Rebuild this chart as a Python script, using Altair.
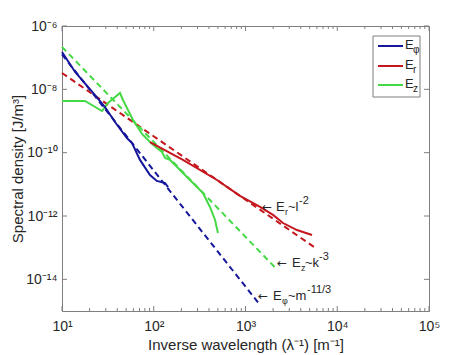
import altair as alt
import pandas as pd

# ---------------- data ----------------
# E_phi (blue, solid)
phi_k = [10, 13.9, 22.9, 29.4, 37.8, 51.0, 58.0, 70.8, 91.0, 108, 133, 143]
phi_E = [1.51e-7, 3.53e-8, 6.6e-9, 2.77e-9, 9.3e-10, 2.91e-10, 2.02e-10, 5.9e-11,
         1.97e-11, 1.28e-11, 1.1e-11, 8.2e-12]
# E_r (red, solid)
r_k = [91.0, 208, 489, 871, 1439, 1995, 2564, 3640, 5309]
r_E = [2.17e-10, 5.9e-11, 1.37e-11, 4.3e-12, 1.93e-12, 1.08e-12, 6.0e-13, 3.6e-13, 2.5e-13]
# E_z (green, solid)
z_k = [10, 17.8, 27.3, 31.7, 42.9, 46.2, 59.4, 74.5, 91.0, 108, 123, 133, 150, 171,
       230, 296, 344, 410, 466, 501]
z_E = [4.3e-9, 4.3e-9, 2.07e-9, 3.7e-9, 7.66e-9, 4.6e-9, 1.08e-9, 3.9e-10, 2.17e-10,
       1.41e-10, 1.05e-10, 6.8e-11, 5.9e-11, 4.1e-11, 1.7e-11, 8.2e-12, 5.3e-12,
       1.93e-12, 7.5e-13, 2.9e-13]
# power-law fits (dashed)
phi_fit_k = [10, 1440]
phi_fit_E = [1.26e-7, 1.55e-15]
r_fit_k = [10, 6000]
r_fit_E = [3.28e-8, 9.1e-14]
z_fit_k = [10, 2200]
z_fit_E = [2.19e-7, 2.06e-14]

# annotation anchors (data coordinates of the arrow tails)
ann_r = (1514, 1.93e-12)
ann_z = (2203, 3.29e-14)
ann_phi = (1368, 2.99e-15)

x_ticks = [10, 100, 1000, 10000, 100000]
y_ticks = [1e-6, 1e-8, 1e-10, 1e-12, 1e-14]
x_minor = [d * m for d in [10, 100, 1000, 10000] for m in range(2, 10)]

x_title = "Inverse wavelength (λ⁻¹) [m⁻¹]"
y_title = "Spectral density [J/m³]"

# ---------------- styling ----------------
BLUE = "#15169a"
RED = "#c4161c"
GREEN = "#46d946"
AXC = "#7f7f7f"
TXT = "#262626"
FONT = "Liberation Sans"
W, H = 367, 285

SUP = str.maketrans("-0123456789", "⁻⁰¹²³⁴⁵⁶⁷⁸⁹")


def label_expr(vals):
    import math
    e = "round(log(datum.value)/LN10)"
    parts = []
    for v in vals:
        p = int(round(math.log10(v)))
        parts.append(f"{e} == {p} ? '10{str(p).translate(SUP)}'")
    return " : ".join(parts) + " : ''"


xscale = alt.Scale(type="log", domain=[10, 1e5], nice=False)
yscale = alt.Scale(type="log", domain=[1e-15, 1e-6], nice=False)

xaxis = alt.Axis(values=x_ticks, labelExpr=label_expr(x_ticks), ticks=False, grid=False,
                 domainColor=AXC, labelColor=TXT, labelFont=FONT, labelFontSize=14,
                 labelPadding=8, title=x_title, titleFont=FONT, titleFontSize=15,
                 titleFontWeight="normal", titleColor=TXT, titleX=W / 2, titleY=33,
                 titleBaseline="middle", titleAlign="center", labelFlush=False)
yaxis = alt.Axis(values=y_ticks, labelExpr=label_expr(y_ticks), ticks=False, grid=False,
                 domainColor=AXC, labelColor=TXT, labelFont=FONT, labelFontSize=14,
                 labelPadding=5, title=y_title, titleFont=FONT, titleFontSize=15,
                 titleFontWeight="normal", titleColor=TXT, titleX=-45, titleY=H / 2,
                 titleAngle=270, titleBaseline="middle", titleAlign="center",
                 labelFlush=False)


def X(field="k"):
    return alt.X(f"{field}:Q", scale=xscale, axis=xaxis)


def Y(field="E"):
    return alt.Y(f"{field}:Q", scale=yscale, axis=yaxis)


def series(k, E, color, dashed=False):
    df = pd.DataFrame({"k": k, "E": E})
    kw = dict(color=color, strokeWidth=2)
    if dashed:
        kw["strokeDash"] = [6, 4]
    return alt.Chart(df).mark_line(**kw).encode(x=X(), y=Y())


layers = [
    series(phi_fit_k, phi_fit_E, BLUE, True),
    series(r_fit_k, r_fit_E, RED, True),
    series(z_fit_k, z_fit_E, GREEN, True),
    series(z_k, z_E, GREEN),
    series(r_k, r_E, RED),
    series(phi_k, phi_E, BLUE),
]

# ticks (inward, MATLAB style)
xt_major = pd.DataFrame({"k": x_ticks})
xt_minor = pd.DataFrame({"k": x_minor})
yt = pd.DataFrame({"E": y_ticks})
for df, L in [(xt_major, 5), (xt_minor, 3)]:
    layers.append(alt.Chart(df).mark_rule(color=AXC, strokeWidth=1).encode(
        x=X(), y=alt.value(H), y2=alt.value(H - L)))
    layers.append(alt.Chart(df).mark_rule(color=AXC, strokeWidth=1).encode(
        x=X(), y=alt.value(0), y2=alt.value(L)))
layers.append(alt.Chart(yt).mark_rule(color=AXC, strokeWidth=1).encode(
    y=Y(), x=alt.value(0), x2=alt.value(5)))
layers.append(alt.Chart(yt).mark_rule(color=AXC, strokeWidth=1).encode(
    y=Y(), x=alt.value(W), x2=alt.value(W - 5)))


# annotations
def annotation(anchor, pieces):
    df = pd.DataFrame({"k": [anchor[0]], "E": [anchor[1]]})
    out = []
    for text, dx, dy, size, font in pieces:
        out.append(alt.Chart(df).mark_text(
            text=text, dx=dx, dy=dy, fontSize=size, font=font, color=TXT,
            align="left", baseline="middle").encode(x=X(), y=Y()))
    return out


AR = "DejaVu Sans"
layers += annotation(ann_r, [("←", 0, 0, 12, AR), ("E", 14, 0, 13, FONT),
                             ("r", 23, 5, 9, FONT), ("~l", 26, 0, 13, FONT),
                             ("-2", 37, -6, 11, FONT)])
layers += annotation(ann_z, [("←", 0, 0, 12, AR), ("E", 15, 0, 13, FONT),
                             ("z", 24, 5, 9, FONT), ("~k", 28, 0, 13, FONT),
                             ("-3", 42, -6, 11, FONT)])
layers += annotation(ann_phi, [("←", 0, 0, 12, AR), ("E", 15, 0, 13, FONT),
                               ("φ", 24, 5, 9, FONT), ("~m", 30, 0, 13, FONT),
                               ("-11/3", 49, -6, 11, FONT)])

# legend (drawn inside the axes, top right)
one = pd.DataFrame({"a": [0]})
layers.append(alt.Chart(one).mark_rect(fill="white", stroke=AXC, strokeWidth=1).encode(
    x=alt.value(311), x2=alt.value(358), y=alt.value(10), y2=alt.value(71)))
for (lab, col), yy in zip([("φ", BLUE), ("r", RED), ("z", GREEN)], [20, 40, 59]):
    layers.append(alt.Chart(one).mark_rule(color=col, strokeWidth=2).encode(
        x=alt.value(316), x2=alt.value(341), y=alt.value(yy)))
    layers.append(alt.Chart(one).mark_text(text="E", fontSize=13, font=FONT, color=TXT,
                                           align="left", baseline="middle").encode(
        x=alt.value(343), y=alt.value(yy - 1)))
    layers.append(alt.Chart(one).mark_text(text=lab, fontSize=10, font=FONT, color=TXT,
                                           align="left", baseline="middle").encode(
        x=alt.value(351), y=alt.value(yy + 4)))

chart = alt.layer(*layers).properties(
    width=W, height=H, autosize="none",
    padding={"left": 54, "top": 18, "right": 37, "bottom": 42},
    background="white",
).configure_view(stroke=AXC, strokeWidth=1)

chart.save("out.html", embed_options={"renderer": "svg", "actions": False})
